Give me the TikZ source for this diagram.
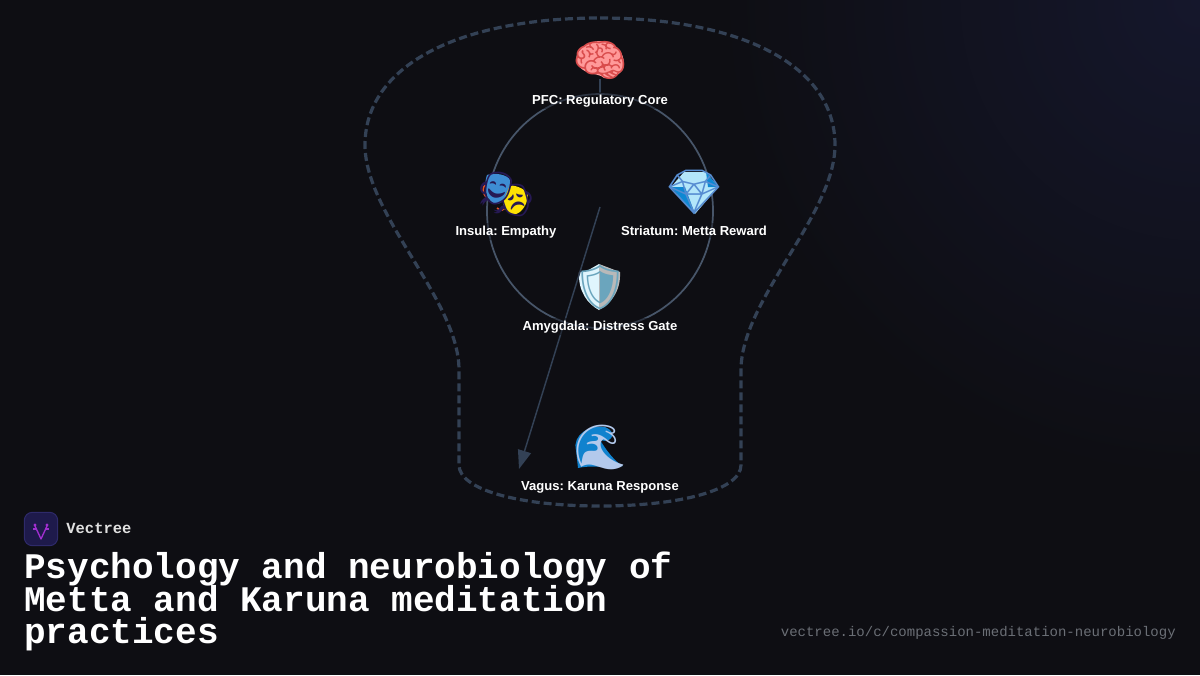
\documentclass[tikz,border=0pt]{standalone}
\usepackage{fontspec}
\usepackage{xcolor}
\usetikzlibrary{arrows.meta,positioning,calc}
\setmainfont{Liberation Sans}
\setmonofont{Liberation Mono}
\newfontfamily\emojifont{Noto Emoji}
\definecolor{ink}{HTML}{0E0E13}
\definecolor{glow}{HTML}{15172C}
\definecolor{slate}{HTML}{334155}
\definecolor{ring}{HTML}{475569}
\definecolor{muted}{HTML}{6B6F76}
\definecolor{logofill}{HTML}{1E1A4B}
\definecolor{logoedge}{HTML}{2E2A6A}
\definecolor{logomark}{HTML}{A02FD0}
\definecolor{ribbon}{HTML}{E2522B}

\begin{document}
\frenchspacing
\begin{tikzpicture}[
  x=0.75pt, y=-0.75pt,
  region/.style={inner sep=0pt, font=\emojifont\fontsize{33pt}{33pt}\selectfont},
  caption/.style={anchor=base, inner sep=2pt, fill=ink, fill opacity=0.45, text opacity=1, text=white,
    font=\bfseries\fontsize{9.8pt}{11pt}\selectfont},
  headline/.style={anchor=base west, inner sep=0pt, text=white,
    font=\ttfamily\bfseries\fontsize{27pt}{27pt}\selectfont},
  link/.style={slate, line width=1.1pt},
]
  \fill[ink] (0,0) rectangle (1200,675);
  \begin{scope}
    \clip (0,0) rectangle (1200,675);
    \shade[inner color=glow, outer color=ink] (1200,0) circle (480);
  \end{scope}

  % head outline and inner ring
  \draw[slate, line width=2.4pt, dash pattern=on 6pt off 3pt]
    (600,18) .. controls (740,18) and (835,65) .. (835,145)
    .. controls (835,215) and (741,300) .. (741,370) -- (741,465)
    .. controls (741,490) and (680,506) .. (600,506)
    .. controls (520,506) and (459,490) .. (459,465) -- (459,370)
    .. controls (459,300) and (365,215) .. (365,145)
    .. controls (365,65) and (460,18) .. (600,18) -- cycle;
  \draw[ring, line width=1.3pt] (600,211) ellipse (113 and 117);

  % colour under the glyphs
  \fill[red!40!white] (576,60) .. controls (576,48) and (590,41) .. (600,41)
    .. controls (615,41) and (624,52) .. (624,64) .. controls (624,74) and (612,79) .. (604,78)
    .. controls (598,72) and (580,76) .. (576,60) -- cycle;
  \draw[ribbon, line width=1.2pt] (487,184) .. controls (480,188) and (484,194) .. (486,197)
    (497,208) .. controls (501,212) and (504,210) .. (506,206);
  \fill[cyan!60!blue!80!white] (487,175) .. controls (495,172) and (508,175) .. (510,180)
    .. controls (511,195) and (503,204) .. (496,204) .. controls (488,202) and (482,190) .. (487,175) -- cycle;
  \fill[yellow!85!orange] (510,185) .. controls (518,186) and (527,190) .. (528,195)
    .. controls (527,208) and (518,216) .. (512,214) .. controls (505,212) and (501,205) .. (504,200) -- cycle;
  \fill[cyan!30!white] (684,172) -- (706,172) -- (718,187) -- (695,214) -- (671,187) -- cycle;
  \fill[cyan!70!blue] (671,187) -- (695,214) -- (685,187) -- cycle;
  \fill[cyan!70!blue] (706,172) -- (718,187) -- (708,187) -- cycle;
  \fill[cyan!12!white] (585,272) -- (599,264) -- (599,310)
    .. controls (588,304) and (578,292) .. (579,272) -- cycle;
  \fill[gray!55!white] (599,264) -- (620,272) .. controls (621,292) and (610,304) .. (599,310) -- cycle;
  \fill[cyan!65!blue] (576,450) .. controls (572,435) and (590,424) .. (605,427)
    .. controls (618,432) and (612,444) .. (600,440) .. controls (606,450) and (615,462) .. (623,466)
    .. controls (605,468) and (590,465) .. (578,468) -- cycle;

  \node[region, text=red!65!white!85!black] (pfc) at (600,60) {^^^^^1f9e0};
  \node[region, text=blue!35!black!80!brown] (insula) at (506,194) {^^^^^1f3ad};
  \node[region, text=cyan!50!blue!70!white] (striatum) at (694,192) {^^^^^1f48e};
  \node[region, text=cyan!45!gray] (amygdala) at (600,287) {^^^^^1f6e1};
  \node[region, text=cyan!55!blue!30!white] (vagus) at (600,447) {^^^^^1f30a};

  \coordinate (ringtop) at (600,94);
  \coordinate (fork) at (600,207);
  \coordinate (vagustip) at (519,469);
  \draw[link] (pfc.south) -- (ringtop);
  \draw[link, -{Stealth[length=14pt, width=10pt, inset=0pt]}] (fork) -- (vagustip);

  \node[caption] (pfclabel) at (600,104) {PFC: Regulatory Core};
  \node[caption] (insulalabel) at (506,235) {Insula: Empathy};
  \node[caption] (striatumlabel) at (694,235) {Striatum: Metta Reward};
  \node[caption] (amygdalalabel) at (600,330) {Amygdala: Distress Gate};
  \node[caption] (vaguslabel) at (600,490) {Vagus: Karuna Response};

  % brand
  \node[draw=logoedge, fill=logofill, rounded corners=6pt, line width=0.75pt,
    minimum size=25pt, inner sep=0pt] (logo) at (41,529) {};
  \coordinate (logotip) at (41,539);
  \draw[logomark, line width=1pt, line join=round] (35,526) -- (logotip) -- (47,526);
  \fill[logomark] (35,525) circle (1.7) (47,525) circle (1.7);
  \draw[logomark, line width=0.8pt] (33,529) -- (37,529) (45,529) -- (49,529);
  \node[right=6pt of logo, yshift=0.7pt, inner sep=0pt, text=white!88!black,
    font=\ttfamily\bfseries\fontsize{11.6pt}{14pt}\selectfont] (brand) {Vectree};
  \node[headline] (titleone) at (24,578.5) {Psychology and neurobiology of};
  \node[headline] (titletwo) at (24,611) {Metta and Karuna meditation};
  \node[headline] (titlethree) at (24,643.5) {practices};
  \node[anchor=east, inner sep=0pt, text=muted,
    font=\ttfamily\fontsize{10.5pt}{12pt}\selectfont] (url) at (1176,633)
    {vectree.io/c/compassion-meditation-neurobiology};
\end{tikzpicture}
\end{document}
